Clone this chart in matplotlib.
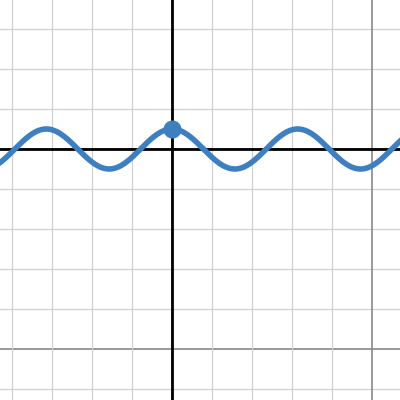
import numpy as np
import matplotlib
matplotlib.use("Agg")
import matplotlib.pyplot as plt

amplitude = 0.5
frequency = 2.0
point_x = [0.0]
point_y = [0.5]
x_range = (-4.3, 5.7)
y_range = (-6.275, 3.725)

fig = plt.figure(figsize=(4, 4), dpi=100)
ax = fig.add_axes([0, 0, 1, 1])
ax.set_xlim(*x_range)
ax.set_ylim(*y_range)
for v in range(-10, 11):
    c, lw = ('#888888', 1.2) if v % 5 == 0 else ('#d0d0d0', 0.9)
    ax.axvline(v, color=c, lw=lw, zorder=0)
    ax.axhline(v, color=c, lw=lw, zorder=0)
ax.axvline(0, color='black', lw=2, zorder=1)
ax.axhline(0, color='black', lw=2, zorder=1)
x = np.linspace(*x_range, 1000)
ax.plot(x, amplitude * np.cos(frequency * x), color='#3d7fc1', lw=4, zorder=2)
ax.plot(point_x, point_y, 'o', color='#3d7fc1', ms=12, zorder=3)
ax.axis('off')
fig.savefig('out.png')
